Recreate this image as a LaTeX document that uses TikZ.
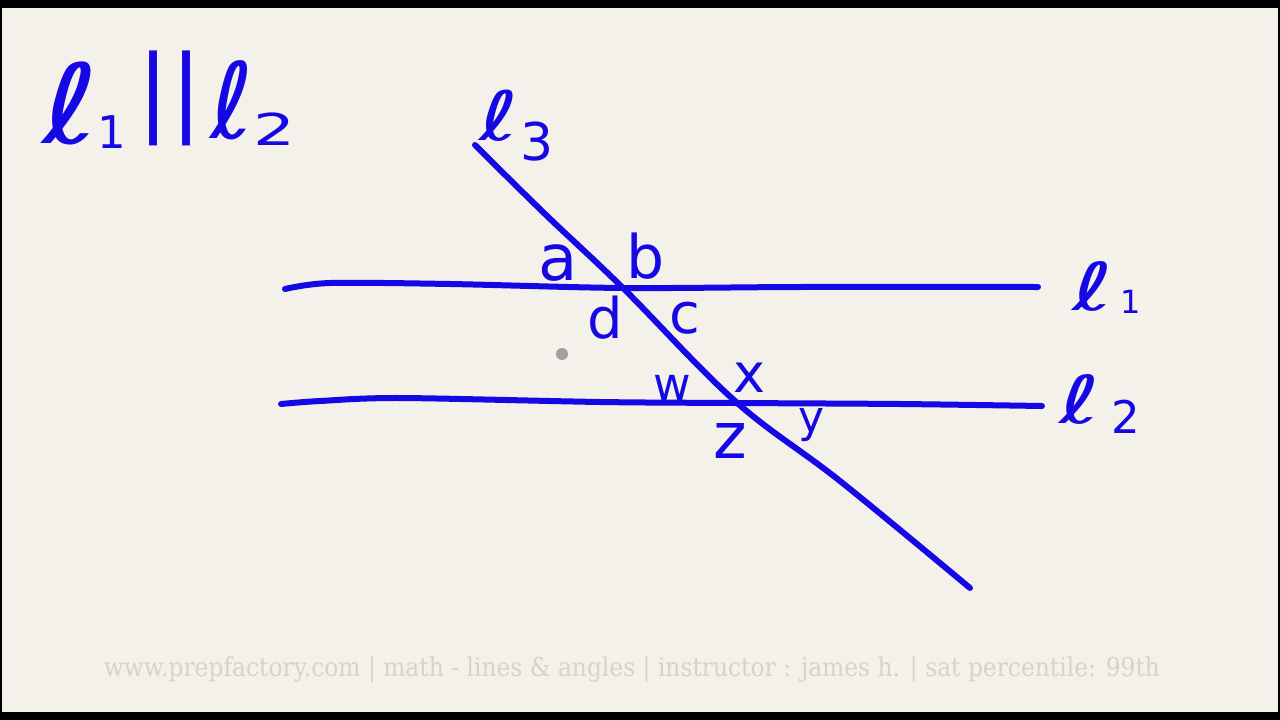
\documentclass[tikz,border=0pt]{standalone}
\usepackage{fontspec}
\usepackage{graphicx}
\setmainfont{DejaVu Sans}
\newfontfamily\footfont{DejaVu Serif}
\definecolor{ink}{RGB}{22,8,228}
\definecolor{board}{RGB}{244,241,235}
\definecolor{foot}{RGB}{214,210,204}
\definecolor{dotgray}{RGB}{160,160,164}
\newcommand\hwsize[1]{\fontsize{#1}{#1}\selectfont}
\begin{document}
\begin{tikzpicture}[x=1pt,y=-1pt,
  pen/.style={draw=ink,line width=6pt,line cap=round,line join=round},
  hw/.style={text=ink,inner sep=0pt,anchor=base},
]
\useasboundingbox (0,0) rectangle (1280,720);
\fill[black] (0,0) rectangle (1280,720);
\fill[board] (2,8) rectangle (1278,712);

% title l1 || l2
\node[hw,font=\hwsize{110},xscale=1.25] (tl1) at (71,143) {ℓ};
\node[hw,font=\hwsize{45}] (tl1s) at (112,148) {1};
\node[hw,font=\hwsize{95}] (tpar) at (170,123) {||};
\node[hw,font=\hwsize{105}] (tl2) at (232,138) {ℓ};
\node[hw,font=\hwsize{44},xscale=1.5] (tl2s) at (274,145) {2};

% lines
\draw[pen] plot[smooth,tension=0.5] coordinates {(285,289) (330,283) (450,284) (623,288) (800,287) (1038,287)};
\draw[pen] plot[smooth,tension=0.5] coordinates {(281,404) (320,401) (400,398) (600,402) (735,403) (900,404) (1042,406)};
\draw[pen] plot[smooth,tension=0.6] coordinates {(475,145) (545,214) (623,288) (735,401) (840,481) (970,588)};

% line labels
\node[hw,font=\hwsize{68},xscale=1.4] (l3) at (499,140) {ℓ};
\node[hw,font=\hwsize{52}] (l3s) at (537,160) {3};
\node[hw,font=\hwsize{66},xscale=1.5] (r1) at (1093,310) {ℓ};
\node[hw,font=\hwsize{32}] (r1s) at (1131,313) {1};
\node[hw,font=\hwsize{66},xscale=1.5] (r2) at (1080,423) {ℓ};
\node[hw,font=\hwsize{45}] (r2s) at (1126,433) {2};

% angle labels
\node[hw,font=\hwsize{64}] (a) at (558,280) {a};
\node[hw,font=\hwsize{60}] (b) at (646,278) {b};
\node[hw,font=\hwsize{56}] (d) at (605,338) {d};
\node[hw,font=\hwsize{56}] (c) at (685,333) {c};
\node[hw,font=\hwsize{46}] (w) at (672,400) {w};
\node[hw,font=\hwsize{54}] (x) at (749,392) {x};
\node[hw,font=\hwsize{64}] (z) at (730,458) {z};
\node[hw,font=\hwsize{44}] (y) at (812,432) {y};

% pointer dot
\fill[dotgray] (562,354) circle (6);

% footer
\node[anchor=base,inner sep=0pt,text=foot,font=\footfont\hwsize{26}] (footer) at (632,676)
  {\resizebox{1056pt}{\height}{www.prepfactory.com | math - lines \& angles | instructor : james h. | sat percentile: 99th}};
\end{tikzpicture}
\end{document}
